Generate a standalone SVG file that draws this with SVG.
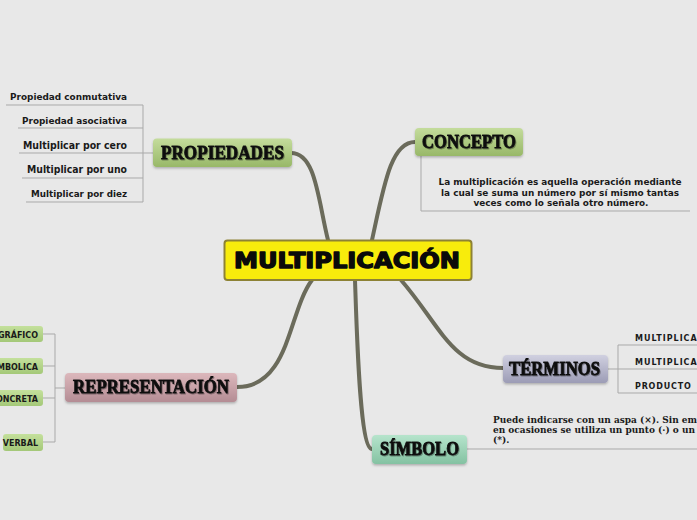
<svg xmlns="http://www.w3.org/2000/svg" width="697" height="520" viewBox="0 0 697 520">
<defs>
<linearGradient id="gGreen" x1="0" y1="0" x2="0" y2="1"><stop offset="0" stop-color="#c4dc9c"/><stop offset="1" stop-color="#98b868"/></linearGradient>
<linearGradient id="gGray" x1="0" y1="0" x2="0" y2="1"><stop offset="0" stop-color="#d0d0e0"/><stop offset="1" stop-color="#9c9cb6"/></linearGradient>
<linearGradient id="gMint" x1="0" y1="0" x2="0" y2="1"><stop offset="0" stop-color="#b6e4cc"/><stop offset="1" stop-color="#84c2a2"/></linearGradient>
<linearGradient id="gPink" x1="0" y1="0" x2="0" y2="1"><stop offset="0" stop-color="#dcb8bc"/><stop offset="1" stop-color="#b48c94"/></linearGradient>
<linearGradient id="gLeaf" x1="0" y1="0" x2="0" y2="1"><stop offset="0" stop-color="#c4e09c"/><stop offset="1" stop-color="#a4c878"/></linearGradient>
<filter id="sh" x="-10%" y="-20%" width="120%" height="150%"><feDropShadow dx="0" dy="1.5" stdDeviation="1" flood-color="#000" flood-opacity="0.25"/></filter>
<filter id="tsh" x="-5%" y="-20%" width="110%" height="150%"><feDropShadow dx="0.8" dy="1" stdDeviation="0.6" flood-color="#000" flood-opacity="0.35"/></filter>
</defs>
<style>
.main{fill:none;stroke:#6b6b5b;stroke-width:4;stroke-linecap:round}
.thin{fill:none;stroke:#a9a9a9;stroke-width:1}
.ttl{font-family:"Liberation Serif",serif;font-weight:bold;fill:#111;stroke:#111;stroke-width:0.8;stroke-linejoin:round}
.sub{font-family:"DejaVu Sans",sans-serif;font-weight:bold;fill:#1a1a1a}
.leaf{font-family:"DejaVu Sans",sans-serif;font-weight:bold;font-size:8px;fill:#1a1a1a}
.ser{font-family:"DejaVu Serif",serif;font-weight:bold;font-size:9px;fill:#1a1a1a}
</style>
<rect width="697" height="520" fill="#e8e8e8"/>
<g id="connectors">
<path class="main" d="M291,153 C316,153 318,200 328,240"/>
<path class="main" d="M415,142 C391,142 384,185 372,240"/>
<path class="main" d="M401,280 C440,325 452,368 503,368"/>
<path class="main" d="M355,280 C357,340 360,449 372,449"/>
<path class="main" d="M312,280 C288,312 290,387 237,387"/>
<path class="thin" d="M6,105H143 M18,128H143 M19,153H153 M22,178H143 M26,202H143 M143,105V202"/>
<path class="thin" d="M421,156V211H690"/>
<path class="thin" d="M608,369H697 M618,345H697 M618,393H697 M618,345V393"/>
<path class="thin" d="M467,449H697"/>
<path class="thin" d="M43,334H55 M43,366H55 M43,398H55 M43,442H55 M55,334V442 M55,388H65"/>
</g>
<g id="central">
<rect x="224.5" y="240.5" width="247" height="39.5" rx="3" fill="#f8ec0c" stroke="#8d8235" stroke-width="2"/>
<text x="234" y="268" font-family="DejaVu Sans, sans-serif" font-weight="900" font-size="22" fill="#0a0a0a" stroke="#0a0a0a" stroke-width="1.4" stroke-linejoin="round" textLength="226" lengthAdjust="spacingAndGlyphs">MULTIPLICACIÓN</text>
</g>
<g id="propiedades">
<rect x="153" y="138.5" width="139" height="28.5" rx="4" fill="url(#gGreen)" filter="url(#sh)"/>
<text class="ttl" x="161" y="159" font-size="19" filter="url(#tsh)" textLength="123" lengthAdjust="spacingAndGlyphs">PROPIEDADES</text>
</g>
<g id="prop-items">
<text class="sub" x="127" y="100" font-size="8.5" text-anchor="end" textLength="117" lengthAdjust="spacingAndGlyphs">Propiedad conmutativa</text>
<text class="sub" x="127" y="123.5" font-size="8.5" text-anchor="end" textLength="105" lengthAdjust="spacingAndGlyphs">Propiedad asociativa</text>
<text class="sub" x="127" y="149" font-size="10.5" text-anchor="end" textLength="104" lengthAdjust="spacingAndGlyphs">Multiplicar por cero</text>
<text class="sub" x="127" y="172.5" font-size="10.5" text-anchor="end" textLength="100" lengthAdjust="spacingAndGlyphs">Multiplicar por uno</text>
<text class="sub" x="127" y="197" font-size="9" text-anchor="end" textLength="96" lengthAdjust="spacingAndGlyphs">Multiplicar por diez</text>
</g>
<g id="concepto">
<rect x="415" y="128" width="108" height="28" rx="4" fill="url(#gGreen)" filter="url(#sh)"/>
<text class="ttl" x="422" y="148" font-size="18" filter="url(#tsh)" textLength="94" lengthAdjust="spacingAndGlyphs">CONCEPTO</text>
</g>
<g id="concepto-text">
<text class="sub" x="560" y="185" font-size="9" text-anchor="middle" textLength="243" lengthAdjust="spacingAndGlyphs">La multiplicación es aquella operación mediante</text>
<text class="sub" x="560" y="195.5" font-size="9" text-anchor="middle" textLength="238" lengthAdjust="spacingAndGlyphs">la cual se suma un número por sí mismo tantas</text>
<text class="sub" x="561" y="206" font-size="9" text-anchor="middle" textLength="175" lengthAdjust="spacingAndGlyphs">veces como lo señala otro número.</text>
</g>
<g id="terminos">
<rect x="503" y="355" width="105" height="28" rx="4" fill="url(#gGray)" filter="url(#sh)"/>
<text class="ttl" x="509" y="375" font-size="18" filter="url(#tsh)" textLength="91" lengthAdjust="spacingAndGlyphs">TÉRMINOS</text>
</g>
<g id="terminos-items">
<text class="leaf" x="635" y="341" letter-spacing="1">MULTIPLICA</text>
<text class="leaf" x="635" y="365" letter-spacing="1">MULTIPLICA</text>
<text class="leaf" x="635" y="388.5" letter-spacing="0.8">PRODUCTO</text>
</g>
<g id="simbolo">
<rect x="372" y="435" width="95" height="29" rx="4" fill="url(#gMint)" filter="url(#sh)"/>
<text class="ttl" x="380" y="455" font-size="18" filter="url(#tsh)" textLength="79" lengthAdjust="spacingAndGlyphs">SÍMBOLO</text>
</g>
<g id="simbolo-text">
<text class="ser" x="493" y="423" textLength="204" lengthAdjust="spacingAndGlyphs">Puede indicarse con un aspa (×). Sin em</text>
<text class="ser" x="493" y="433" textLength="202" lengthAdjust="spacingAndGlyphs">en ocasiones se utiliza un punto (·) o un</text>
<text class="ser" x="493" y="443">(*).</text>
</g>
<g id="representacion">
<rect x="65" y="373" width="172" height="29" rx="4" fill="url(#gPink)" filter="url(#sh)"/>
<text class="ttl" x="73" y="393" font-size="18" filter="url(#tsh)" textLength="156" lengthAdjust="spacingAndGlyphs">REPRESENTACIÓN</text>
</g>
<g id="grafico">
<rect x="-10" y="326" width="53" height="16" rx="3" fill="url(#gLeaf)"/>
<text class="leaf" x="38" y="338" text-anchor="end">GRÁFICO</text>
</g>
<g id="simbolica">
<rect x="-10" y="358" width="53" height="16" rx="3" fill="url(#gLeaf)"/>
<text class="leaf" x="38" y="370" text-anchor="end">MBOLICA</text>
</g>
<g id="concreta">
<rect x="-10" y="390" width="53" height="16" rx="3" fill="url(#gLeaf)"/>
<text class="leaf" x="38" y="402" text-anchor="end">ONCRETA</text>
</g>
<g id="verbal">
<rect x="3" y="434" width="40" height="17" rx="3" fill="url(#gLeaf)"/>
<text class="leaf" x="38" y="446" text-anchor="end">VERBAL</text>
</g>
</svg>
